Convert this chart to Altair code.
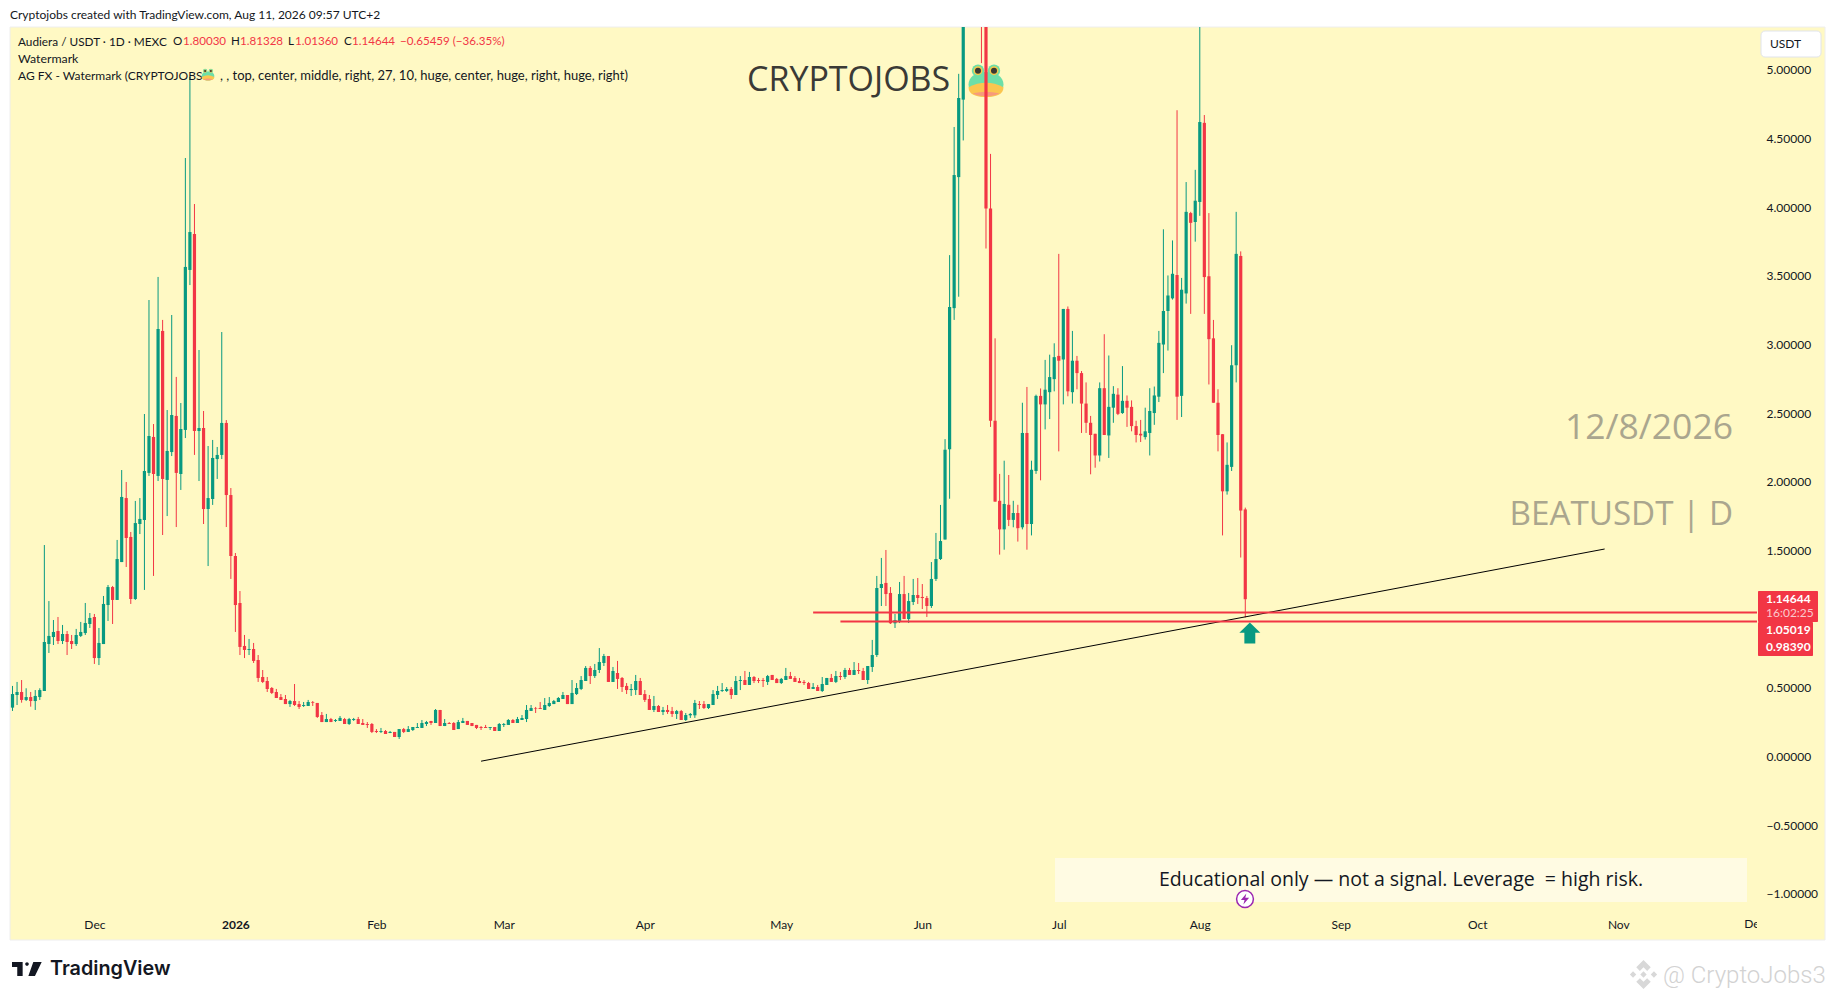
import math
import altair as alt
import pandas as pd

opens = [.357,.449,.471,.413,.434,.405,.434,.478,.820,.871,
.915,.842,.893,.842,.820,.879,.900,.966,1.017,.718,
.820,1.104,1.235,1.141,1.417,1.883,1.600,1.148,1.694,1.723,
2.066,2.328,2.044,3.10,2.015,2.218,2.481,2.058,2.379,3.544,
3.806,2.371,2.393,1.803,1.876,2.167,2.197,2.430,1.905,1.461,
1.119,.806,.777,.784,.704,.580,.551,.500,.471,.434,
.420,.383,.405,.383,.369,.369,.398,.391,.303,.252,
.274,.260,.260,.274,.238,.267,.274,.245,.238,.238,
.187,.180,.187,.172,.180,.143,.201,.180,.194,.209,
.209,.238,.260,.245,.340,.223,.245,.245,.201,.245,
.260,.245,.231,.216,.216,.209,.216,.187,.231,.231,
.267,.245,.267,.274,.333,.354,.354,.340,.369,.383,
.398,.420,.449,.383,.456,.493,.551,.646,.587,.631,
.682,.733,.544,.609,.573,.515,.485,.485,.551,.456,
.420,.340,.369,.325,.340,.332,.311,.332,.267,.301,
.301,.383,.383,.354,.376,.449,.478,.478,.493,.449,
.551,.558,.522,.580,.558,.558,.544,.595,.566,.536,
.558,.587,.573,.551,.544,.536,.493,.507,.478,.522,
.573,.544,.587,.580,.631,.595,.631,.624,.558,.653,
.740,1.228,1.265,1.192,.971,.988,1.184,1.002,1.126,1.177,
1.163,1.155,1.097,1.294,1.439,1.581,2.238,3.266,4.220,4.784,
5.70,6.4,6.9,6.5,6.1,3.991,2.446,1.863,1.655,1.834,
1.724,1.774,1.670,2.357,1.694,2.080,2.627,2.565,2.654,2.749,
2.918,2.892,3.260,2.654,2.883,2.793,2.571,2.431,2.351,2.193,
2.683,2.339,2.541,2.636,2.502,2.591,2.547,2.407,2.351,2.327,
2.357,2.502,2.621,3.001,3.245,3.337,3.507,2.627,3.373,3.958,
3.893,4.039,4.615,3.498,3.046,2.577,2.348,1.932,2.110,2.850,
3.646,1.8003]

highs = [.515,.544,.558,.498,.471,.485,.498,1.541,1.133,.995,
1.017,.959,.915,.886,.930,.981,1.119,1.046,1.039,.937,
1.170,1.250,1.243,1.578,2.087,2.0,1.636,1.862,1.883,2.495,
3.325,2.422,3.493,3.18,2.524,3.216,2.765,2.575,4.359,4.95,
4.024,2.961,2.517,2.262,2.306,2.255,3.092,2.451,1.956,1.483,
1.206,.886,.857,.828,.740,.631,.580,.507,.493,.456,
.449,.413,.529,.405,.398,.413,.405,.391,.325,.311,
.282,.274,.296,.282,.282,.282,.289,.274,.252,.245,
.201,.209,.194,.187,.180,.201,.209,.223,.216,.245,
.267,.260,.260,.347,.340,.274,.252,.252,.267,.282,
.260,.245,.231,.223,.231,.216,.216,.245,.245,.274,
.274,.289,.303,.376,.376,.362,.398,.427,.434,.413,
.434,.471,.449,.558,.536,.587,.660,.660,.675,.791,
.748,.733,.653,.697,.580,.536,.529,.595,.573,.485,
.449,.442,.376,.362,.376,.362,.340,.340,.318,.318,
.413,.405,.405,.383,.485,.515,.536,.507,.507,.587,
.587,.624,.617,.587,.573,.573,.595,.595,.573,.573,
.646,.617,.587,.573,.558,.544,.536,.522,.580,.573,
.602,.624,.617,.646,.646,.689,.682,.646,.660,.850,
1.316,1.447,1.505,1.235,1.039,1.272,1.316,1.192,1.294,1.301,
1.257,1.170,1.417,1.629,1.833,2.312,3.652,4.585,4.972,6.2,
6.9,7.4,7.6,7.0,6.5,4.389,3.046,2.059,2.155,2.051,
1.863,1.834,2.577,2.692,2.155,2.636,2.681,2.889,2.927,3.010,
3.661,3.260,3.278,3.100,2.918,2.808,2.725,2.481,2.351,2.725,
3.076,2.921,2.698,2.683,2.844,2.630,2.594,2.446,2.452,2.541,
2.683,2.695,3.100,3.840,3.504,3.759,4.707,3.486,4.184,3.967,
4.273,5.6,4.672,3.958,3.180,2.675,2.348,2.288,2.996,3.967,
3.679,1.81328]

lows = [.333,.376,.393,.405,.364,.340,.413,.478,.755,.813,
.820,.820,.740,.784,.806,.871,.886,.937,.675,.667,
.820,.988,.966,1.141,1.417,1.381,1.112,1.141,1.621,1.214,
2.044,1.316,2.007,1.614,1.752,2.189,1.672,1.942,2.32,3.434,
2.197,2.007,1.694,1.388,1.833,2.022,2.167,1.672,1.294,.908,
.740,.718,.740,.682,.544,.536,.471,.456,.427,.413,
.383,.362,.369,.347,.362,.369,.369,.282,.252,.252,
.252,.252,.260,.238,.231,.260,.238,.231,.209,.172,
.172,.172,.165,.172,.143,.129,.172,.180,.187,.209,
.209,.223,.231,.245,.223,.223,.238,.194,.201,.245,
.231,.223,.201,.194,.209,.194,.187,.187,.216,.231,
.245,.245,.267,.252,.333,.318,.347,.340,.362,.383,
.398,.420,.383,.383,.449,.485,.551,.529,.573,.609,
.660,.544,.544,.493,.471,.456,.442,.449,.449,.398,
.340,.325,.325,.303,.311,.289,.274,.267,.260,.282,
.282,.347,.347,.347,.376,.420,.471,.471,.420,.449,
.485,.522,.522,.536,.536,.507,.522,.558,.536,.529,
.558,.566,.544,.536,.522,.493,.493,.478,.471,.522,
.544,.536,.558,.566,.595,.595,.602,.558,.529,.617,
.726,1.097,1.097,.966,.937,.973,1.002,.973,1.104,1.112,
1.075,1.017,1.083,1.279,1.432,1.581,1.878,3.180,3.349,4.487,
5.5,6.1,6.0,5.05,3.70,2.401,1.857,1.471,1.507,1.679,
1.670,1.566,1.655,1.507,1.611,2.059,2.012,2.383,2.458,2.660,
2.223,2.565,2.624,2.571,2.675,2.357,2.357,2.056,2.104,2.149,
2.342,2.175,2.431,2.487,2.496,2.401,2.369,2.288,2.291,2.309,
2.193,2.416,2.582,2.793,2.957,3.328,2.452,2.473,3.299,3.224,
3.750,3.938,3.224,2.710,2.577,2.223,1.611,1.908,2.080,2.725,
1.450,1.0136]

closes = [.456,.471,.413,.434,.405,.442,.485,.835,.879,.908,
.842,.893,.835,.820,.886,.908,.973,1.010,.718,.828,
1.112,1.235,1.141,1.439,1.891,1.592,1.148,1.701,1.731,2.080,
2.335,2.058,3.114,2.022,2.226,2.488,2.066,2.386,3.566,3.82,
2.371,2.393,1.803,1.883,2.175,2.197,2.430,1.905,1.461,1.104,
.799,.777,.784,.697,.573,.544,.493,.464,.427,.413,
.383,.405,.376,.362,.376,.398,.393,.289,.252,.274,
.252,.267,.282,.238,.274,.274,.238,.231,.231,.180,
.180,.187,.165,.180,.143,.201,.180,.201,.216,.216,
.245,.252,.245,.340,.223,.245,.238,.194,.252,.260,
.231,.223,.209,.209,.209,.216,.187,.238,.238,.267,
.245,.274,.282,.340,.354,.350,.347,.376,.391,.405,
.427,.449,.383,.464,.500,.558,.646,.587,.631,.689,
.733,.544,.624,.566,.507,.485,.493,.551,.449,.413,
.340,.369,.325,.340,.325,.311,.332,.267,.303,.311,
.391,.376,.354,.383,.456,.478,.485,.493,.449,.551,
.558,.522,.580,.551,.551,.551,.587,.558,.536,.566,
.587,.566,.544,.536,.536,.493,.507,.478,.529,.573,
.544,.587,.580,.631,.595,.631,.624,.558,.660,.740,
1.228,1.257,1.184,.971,.995,1.184,1.002,1.133,1.177,1.155,
1.155,1.097,1.294,1.439,1.570,2.235,3.275,4.235,4.796,5.70,
6.4,6.9,6.5,6.1,3.991,2.446,1.857,1.655,1.840,1.724,
1.774,1.664,2.357,1.694,2.089,2.627,2.565,2.672,2.764,2.909,
2.883,3.260,2.660,2.883,2.793,2.571,2.431,2.342,2.193,2.683,
2.342,2.547,2.642,2.496,2.591,2.541,2.407,2.342,2.339,2.369,
2.517,2.630,3.013,3.245,3.358,3.516,2.621,3.400,3.967,3.887,
4.048,4.621,3.492,3.040,2.577,2.342,1.932,2.125,2.850,3.661,
1.792,1.14644]

first_day = "2025-11-13"
price_ticks = [-1.0, -0.5, 0.0, 0.5, 1.5, 2.0, 2.5, 3.0, 3.5, 4.0, 4.5, 5.0]
month_ticks = [(2025, 12), (2026, 1), (2026, 2), (2026, 3), (2026, 4), (2026, 5),
               (2026, 6), (2026, 7), (2026, 8), (2026, 9), (2026, 10), (2026, 11)]
trend_dates = ["2026-02-24", "2026-10-29"]
trend_prices = [-0.033, 1.512]
level_prices = [1.05019, 0.98390]
level_starts = ["2026-05-08", "2026-05-14"]
level_end = "2026-12-01T11:46:00Z"

GREEN, RED = "#089981", "#F23645"
PANEL = "#FFF9C4"
FONT = "Lato"
INK = "#131722"

df = pd.DataFrame({
    "date": pd.date_range(first_day, periods=len(opens)).strftime("%Y-%m-%d"),
    "open": opens, "high": highs, "low": lows, "close": closes,
})
df["top"] = df[["open", "close"]].max(axis=1)
df["bot"] = df[["open", "close"]].min(axis=1)

PLOT_L, PLOT_T = 10, 27
PLOT_W, PLOT_H = 1747, 913

xscale = alt.Scale(type="utc", padding=0, domain=[
    alt.DateTime(year=2025, month=11, date=12, hours=10, minutes=48, utc=True),
    alt.DateTime(year=2026, month=12, date=1, hours=11, minutes=46, utc=True)])
yscale = alt.Scale(domain=[-1.335, 5.313], nice=False, zero=False)

x_axis = alt.Axis(
    values=[alt.DateTime(year=y, month=m, date=1, utc=True) for y, m in month_ticks],
    labelExpr="utcmonth(datum.value)==0 ? '2026' : utcFormat(datum.value,'%b')",
    labelFontWeight={"condition": {"test": "utcmonth(datum.value)==0", "value": "bold"}, "value": "normal"},
    orient="bottom", offset=-15.5, domain=False, ticks=False, grid=False, labelPadding=0,
    labelBaseline="middle", labelFont=FONT, labelFontSize=12, labelColor=INK, title=None,
    labelOverlap=False, labelFlush=False, zindex=1)
y_axis = alt.Axis(values=price_ticks, format=".5f", orient="right", domain=False, ticks=False,
                  grid=False, labelPadding=9, labelFont=FONT, labelFontSize=12, labelColor=INK,
                  title=None, labelOverlap=False, labelFlush=False, labelBound=False, zindex=1)

one = pd.DataFrame({"k": [0]})


def px(x):
    return alt.value(x - PLOT_L)


def py(y):
    return alt.value(y - PLOT_T)


def box(x0, x1, y0, y1, fill, **kw):
    return alt.Chart(one).mark_rect(fill=fill, **kw).encode(
        x=px(x0), x2=px(x1), y=py(y0), y2=py(y1))


def label(text, x, y, size=12.3, color=INK, align="left", font=FONT, weight="normal", **kw):
    return alt.Chart(one).mark_text(text=text, align=align, baseline="middle", fontSize=size,
                                    color=color, font=font, fontWeight=weight, **kw).encode(
        x=px(x), y=py(y))


def glyph(path, x, y, width, color, **kw):
    return alt.Chart(one).mark_point(shape=path, filled=True, opacity=1, size=width ** 2,
                                     fill=color, strokeWidth=0, **kw).encode(x=px(x), y=py(y))


def dot(x, y, r, color):
    return alt.Chart(one).mark_point(shape="circle", filled=True, opacity=1, size=math.pi * r * r,
                                     fill=color, strokeWidth=0).encode(x=px(x), y=py(y))


def frog(cx, cy, s):
    return [
        glyph("M-1,0 C-1,-.45 -.55,-.71 0,-.71 C.55,-.71 1,-.45 1,0 C1,.45 .55,.71 0,.71 C-.55,.71 -1,.45 -1,0Z",
              cx, cy, 35 * s, "#6DDFA8"),
        glyph("M-1,.15 Q0,-.35 1,.15 C1,.55 .6,.71 0,.71 C-.6,.71 -1,.55 -1,.15Z", cx, cy, 35 * s, "#FBC64F"),
        glyph("M-.75,.5 Q0,.32 .75,.5 C.5,.72 -.5,.72 -.75,.5Z", cx, cy, 35 * s, "#F79A7B"),
        dot(cx - 8 * s, cy - 13.8 * s, 7 * s, "#6DDFA8"),
        dot(cx + 8 * s, cy - 13.8 * s, 7 * s, "#6DDFA8"),
        dot(cx - 8 * s, cy - 13.8 * s, 5 * s, "#F5C84B"),
        dot(cx + 8 * s, cy - 13.8 * s, 5 * s, "#F5C84B"),
        dot(cx - 8 * s, cy - 13.8 * s, 3.4 * s, "#3A3A32"),
        dot(cx + 8 * s, cy - 13.8 * s, 3.4 * s, "#3A3A32"),
    ]


base = alt.Chart(df)
X = alt.X("date:T", scale=xscale, axis=x_axis)
Y = alt.Y("low:Q", scale=yscale, axis=y_axis)
candle_color = alt.condition("datum.close >= datum.open", alt.value(GREEN), alt.value(RED))

wicks = base.mark_rule(strokeWidth=1, clip=True).encode(x=X, y=Y, y2="high:Q", color=candle_color)
bodies = base.mark_bar(size=3.2, clip=True).encode(
    x=alt.X("date:T", scale=xscale, axis=x_axis), y=alt.Y("bot:Q", scale=yscale, axis=y_axis), y2="top:Q",
    color=candle_color)

trend = alt.Chart(pd.DataFrame({"date": trend_dates, "price": trend_prices})).mark_line(
    color="#000000", strokeWidth=1).encode(
    x=alt.X("date:T", scale=xscale, axis=x_axis), y=alt.Y("price:Q", scale=yscale, axis=y_axis))
levels = alt.Chart(pd.DataFrame({"date": level_starts, "end": [level_end] * 2, "price": level_prices})).mark_rule(
    color=RED, strokeWidth=2).encode(
    x=alt.X("date:T", scale=xscale, axis=x_axis), x2="end:T", y=alt.Y("price:Q", scale=yscale, axis=y_axis))

arrow = alt.Chart(pd.DataFrame({"date": ["2026-08-12"], "price": [0.90]})).mark_point(
    shape="M0,-1 L1,-.02 L.52,-.02 L.52,1 L-.52,1 L-.52,-.02 L-1,-.02 Z",
    filled=True, opacity=1, size=21 ** 2, fill=GREEN, strokeWidth=0).encode(
    x=alt.X("date:T", scale=xscale, axis=x_axis), y=alt.Y("price:Q", scale=yscale, axis=y_axis))

dec_label = alt.Chart(pd.DataFrame({"date": ["2026-12-01"], "price": [-1.222]})).mark_text(
    text="Dec", clip=True, baseline="middle", font=FONT, fontSize=12, color=INK).encode(
    x=alt.X("date:T", scale=xscale, axis=x_axis), y=alt.Y("price:Q", scale=yscale, axis=y_axis))

bg = [
    box(10, 1825, 27, 940, PANEL, stroke="#EEEEEE", strokeWidth=1),
    box(1055, 1747, 858, 902, "#FFFBE3"),
    box(1761, 1821, 31, 57, "#FFFFFF", stroke="#E0E3EB", strokeWidth=1, cornerRadius=4),
]

WM = "Open Sans"
watermarks = [
    label("CRYPTOJOBS", 747, 81, size=34, color="#3A3A36", font=WM),
    label("12/8/2026", 1733, 428, size=35.5, color="#AAA68E", align="right", font=WM),
    label("BEATUSDT | D", 1733, 515, size=33.2, color="#AAA68E", align="right", font=WM),
    label("Educational only — not a signal. Leverage\u00a0 = high risk.", 1401, 880, size=19.5,
          color="#131722", align="center", font=WM),
]

NUM = 11.6
header = [
    label("Cryptojobs created with TradingView.com, Aug 11, 2026 09:57 UTC+2", 10, 15, size=12),
    label("Audiera / USDT · 1D · MEXC", 18, 42, size=11.8),
    label("O", 173, 42, size=NUM), label("1.80030", 183, 42, color=RED, size=NUM),
    label("H", 231, 42, size=NUM), label("1.81328", 240, 42, color=RED, size=NUM),
    label("L", 288, 42, size=NUM), label("1.01360", 295, 42, color=RED, size=NUM),
    label("C", 344, 42, size=NUM), label("1.14644", 352, 42, color=RED, size=NUM),
    label("−0.65459 (−36.35%)", 400, 42, color=RED, size=NUM),
    label("Watermark", 18, 59),
    label("AG FX - Watermark (CRYPTOJOBS", 18, 76, size=12),
    label(", , top, center, middle, right, 27, 10, huge, center, huge, right, huge, right)", 220, 76, size=13),
    label("USDT", 1770, 44, size=12),
]

tags = [
    box(1758, 1818, 591, 622, RED, cornerRadius=1),
    box(1758, 1813, 622, 656, RED, cornerRadius=1),
    label("1.14644", 1766, 599, size=12, color="#FFFFFF", weight="bold"),
    label("16:02:25", 1766, 613, size=12, color="#FBC9CD"),
    label("1.05019", 1766, 630, size=12, color="#FFFFFF", weight="bold"),
    label("0.98390", 1766, 647, size=12, color="#FFFFFF", weight="bold"),
]

bolt_mark = [
    alt.Chart(one).mark_point(shape="circle", filled=True, opacity=1, size=math.pi * 90, fill="#FFFFFF",
                              stroke="#9C27B0", strokeWidth=1.5).encode(x=px(1245), y=py(899)),
    glyph("M.25,-1 L-.75,.18 L-.08,.18 L-.3,1 L.75,-.25 L.05,-.25 Z", 1245, 899, 11, "#9C27B0"),
]

footer = [
    glyph("M-1,-.47 H-.29 V.47 H-.65 V-.13 H-1 Z M.42,-.47 H.98 L.53,.47 H.09 Z "
          "M-.12,-.33 A.12,.12 0 1,1 .12,-.33 A.12,.12 0 1,1 -.12,-.33 Z", 27, 969, 30, "#131722"),
    label("TradingView", 50, 969, size=19.8, color="#131722", font="Inter", weight=600),
    glyph("M0,-1 L.5,-.5 L.25,-.25 L0,-.5 L-.25,-.25 L-.5,-.5 Z M0,1 L.5,.5 L.25,.25 L0,.5 L-.25,.25 L-.5,.5 Z "
          "M0,-.22 L.22,0 L0,.22 L-.22,0 Z M-.72,-.22 L-.5,0 L-.72,.22 L-.94,0 Z M.72,-.22 L.94,0 L.72,.22 L.5,0 Z",
          1643.5, 974.5, 29, "#D8D8D8"),
    label("@ CryptoJobs3", 1663, 976, size=24, color="#D2D2D2", font="Roboto", weight=300),
]

layers = bg + watermarks[:3] + frog(986, 84.5, 1.0) + [wicks, bodies] + [trend, levels, arrow] + [
    watermarks[3]] + bolt_mark + [dec_label] + header + frog(208, 76, 0.36) + tags + footer

chart = alt.layer(*layers).properties(
    width=PLOT_W, height=PLOT_H,
    padding={"left": 2, "top": 19, "right": 70, "bottom": 50},
    autosize=alt.AutoSizeParams(type="none"),
    background="#FFFFFF",
).configure_view(stroke=None)

chart.save("out.html", embed_options={"renderer": "svg", "actions": False})
